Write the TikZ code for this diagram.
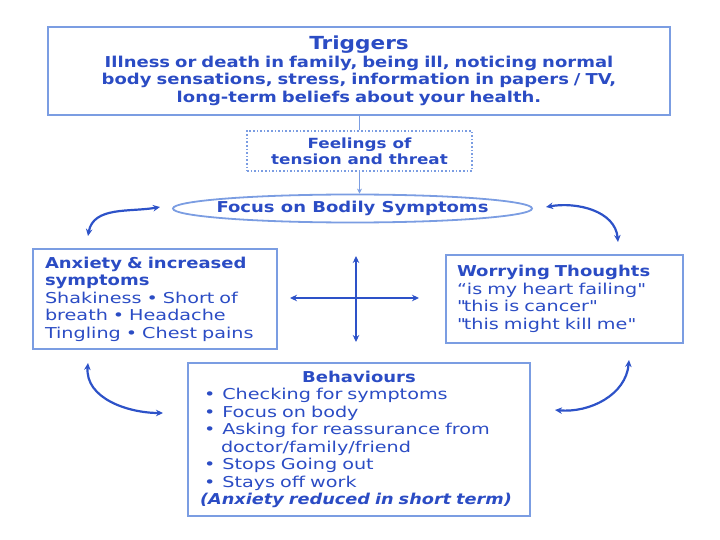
\documentclass[tikz,border=0pt]{standalone}
\usepackage{fontspec}
\setmainfont{DejaVu Sans}[UprightFeatures={FakeStretch=1.28}, BoldFeatures={FakeStretch=1.2}, BoldItalicFeatures={FakeStretch=1.18}]
\usepackage{tikz}
\usetikzlibrary{shapes.geometric,arrows.meta}

\definecolor{inkblue}{HTML}{2B4CC4}
\definecolor{lineblue}{HTML}{7B9DE2}
\definecolor{arrowblue}{HTML}{2D52C8}

\tikzset{
	box/.style={draw=lineblue, line width=1.6pt, inner sep=0pt, text=inkblue},
	loop arrow/.style={arrowblue, line width=2.2pt, {Stealth[length=7pt,width=6.5pt]}-{Stealth[length=7pt,width=6.5pt]}},
}

\begin{document}
\begin{tikzpicture}[x=1pt, y=1pt, every node/.style={font=\fontsize{15}{17.5}\selectfont}]
	\useasboundingbox (0,0) rectangle (720,-540);

	\node[box, minimum width=622pt, minimum height=88pt, text width=600pt, align=center, font=\fontsize{15}{17.5}\selectfont\bfseries] (trig) at (359,-71)
		{{\fontsize{18}{19}\selectfont Triggers}\\ Illness or death in family, being ill, noticing normal\\ body sensations, stress, information in papers / TV,\\ long-term beliefs about your health.};
	\node[box, dotted, line width=1.2pt, minimum width=225pt, minimum height=40pt, align=center, font=\fontsize{14}{16}\selectfont\bfseries] (feel) at (359.5,-151)
		{Feelings of\\ tension and threat};
	\node[box, ellipse, inner xsep=-9pt, line width=1.8pt, minimum width=351pt, minimum height=28pt, font=\fontsize{15}{17}\selectfont\bfseries] (focus) at (352.5,-208.5)
		{Focus on Bodily Symptoms};

	\node[box, minimum width=244pt, minimum height=100pt, text width=220pt, align=left] (anx) at (155,-299)
		{\textbf{Anxiety \& increased}\\ \textbf{symptoms}\\ Shakiness \textbullet\ Short of\\ breath \textbullet\ Headache\\ Tingling \textbullet\ Chest pains};
	\node[box, minimum width=237pt, minimum height=88pt, text width=215pt, align=left] (worry) at (564.5,-299)
		{\textbf{Worrying Thoughts}\\ ``is my heart failing\textquotedbl\\ \textquotedbl this is cancer\textquotedbl\\ \textquotedbl this might kill me\textquotedbl};
	\node[box, minimum width=342pt, minimum height=153pt, text width=318pt, align=left] (behav) at (359,-439.5)
		{\makebox[\linewidth]{\textbf{Behaviours}}\\
		 \hspace*{4pt}\textbullet\hspace{7pt}Checking for symptoms\\
		 \hspace*{4pt}\textbullet\hspace{7pt}Focus on body\\
		 \hspace*{4pt}\textbullet\hspace{7pt}Asking for reassurance from\\
		 \hspace*{21pt}doctor/family/friend\\
		 \hspace*{4pt}\textbullet\hspace{7pt}Stops Going out\\
		 \hspace*{4pt}\textbullet\hspace{7pt}Stays off work\\
		 \textbf{\itshape(Anxiety reduced in short term)}};

	% trigger chain
	\draw[lineblue, line width=1.6pt] (trig.south -| feel.north) -- (feel.north);
	\draw[lineblue, line width=1.4pt, -{Stealth[length=5pt,width=5pt]}] (feel.south) -- (feel.south |- focus.north);

	% cross in the middle
	\coordinate (crossW) at (290,-298);
	\coordinate (crossE) at (419,-298);
	\coordinate (crossN) at (356,-256);
	\coordinate (crossS) at (356,-342);
	\draw[loop arrow] (crossW) -- (crossE);
	\draw[loop arrow] (crossN) -- (crossS);

	% round arrows between the boxes
	\coordinate (tlA) at (88,-236);  \coordinate (tlB) at (160,-207);
	\coordinate (trA) at (546,-207); \coordinate (trB) at (618,-242);
	\coordinate (blA) at (88,-363);  \coordinate (blB) at (163,-413);
	\coordinate (brA) at (555,-410); \coordinate (brB) at (629,-360);
	\foreach \a/\o/\i in {tl/80/190, tr/10/95, bl/-95/180, br/-5/-95}
		\draw[loop arrow] (\a A) to[out=\o, in=\i] (\a B);
\end{tikzpicture}
\end{document}
